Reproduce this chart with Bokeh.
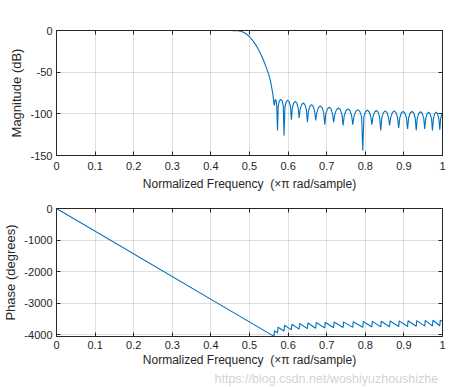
from bokeh.plotting import figure
from bokeh.layouts import column
from bokeh.models import Range1d, FixedTicker, LinearAxis, Title
from bokeh.embed import file_html
from bokeh.resources import INLINE

# ---------------- data ----------------
freq_mag = [
    0.0, 0.45, 0.46, 0.47, 0.48, 0.49, 0.50, 0.51, 0.52, 0.53, 0.54, 0.55, 0.555, 0.56, 0.5635,
    0.5645, 0.5655, 0.567, 0.569, 0.5705,
    0.5725, 0.5745, 0.5776, 0.581, 0.5844, 0.5875,
    0.5895, 0.5918, 0.5952, 0.599, 0.6028, 0.6062,
    0.6085, 0.6109, 0.6145, 0.6185, 0.6225, 0.6261,
    0.6285, 0.6311, 0.635, 0.6393, 0.6435, 0.6474,
    0.650, 0.6526, 0.6565, 0.6608, 0.665, 0.6689,
    0.6715, 0.6743, 0.6786, 0.6833, 0.688, 0.6922,
    0.695, 0.6978, 0.7019, 0.7065, 0.7111, 0.7152,
    0.718, 0.7209, 0.7254, 0.7303, 0.7352, 0.7396,
    0.7425, 0.7455, 0.75, 0.755, 0.76, 0.7645,
    0.7675, 0.7706, 0.7753, 0.7805, 0.7857, 0.7904,
    0.7935, 0.7963, 0.8006, 0.8053, 0.81, 0.8142,
    0.817, 0.8198, 0.8239, 0.8285, 0.8331, 0.8372,
    0.840, 0.8428, 0.8469, 0.8515, 0.8561, 0.8602,
    0.863, 0.8658, 0.8701, 0.8748, 0.8795, 0.8837,
    0.8865, 0.8893, 0.8934, 0.898, 0.9026, 0.9067,
    0.9095, 0.9122, 0.9163, 0.9208, 0.9253, 0.9293,
    0.932, 0.9346, 0.9386, 0.943, 0.9474, 0.9514,
    0.954, 0.9564, 0.96, 0.964, 0.968, 0.9716,
    0.974, 0.9763, 0.9797, 0.9835, 0.9873, 0.9907,
    0.993, 0.9953, 0.9985, 1.0,
]
mag_db = [
    0.0, 0.0, -0.1, -0.3, -1.2, -3.5, -7.5, -13, -20, -29, -40, -53, -62, -75, -88,
    -90, -86, -82.5, -84, -90,
    -120, -90.5, -84.5, -82.5, -84.5, -90.5,
    -126, -91.5, -85.5, -83.5, -85.5, -91.5,
    -107, -93, -87, -85, -87, -93,
    -105, -95, -89, -87, -89, -95,
    -110, -97, -91, -89, -91, -97,
    -108, -98.5, -92.5, -90.5, -92.5, -98.5,
    -113, -100, -94, -92, -94, -100,
    -110, -101, -95, -93, -95, -101,
    -114, -102, -96, -94, -96, -102,
    -113, -103, -97, -95, -97, -103,
    -144, -103.5, -97.5, -95.5, -97.5, -103.5,
    -113, -104, -98, -96, -98, -104,
    -120, -104.5, -98.5, -96.5, -98.5, -104.5,
    -114, -104.5, -98.5, -96.5, -98.5, -104.5,
    -117, -105, -99, -97, -99, -105,
    -118, -105, -99, -97, -99, -105,
    -120, -105.5, -99.5, -97.5, -99.5, -105.5,
    -118, -106, -100, -98, -100, -106,
    -120, -106, -100, -98, -100, -106,
    -119, -105, -100, -99.5,
]

freq_phase = [
    0.0, 0.5635, 0.5645,
    0.5725, 0.5737, 0.5895, 0.5907, 0.6085, 0.6097, 0.6285, 0.6297,
    0.650, 0.6512, 0.6715, 0.6727, 0.695, 0.6962, 0.718, 0.7192,
    0.7425, 0.7437, 0.7675, 0.7687, 0.7935, 0.7947, 0.817, 0.8182,
    0.840, 0.8412, 0.863, 0.8642, 0.8865, 0.8877, 0.9095, 0.9107,
    0.932, 0.9332, 0.954, 0.9552, 0.974, 0.9752, 0.993, 0.9942, 1.0,
]
phase_deg = [
    0, -4050, -3870,
    -3940, -3760, -3880, -3700, -3845, -3665, -3820, -3640,
    -3805, -3625, -3792, -3612, -3782, -3602, -3776, -3596,
    -3770, -3590, -3765, -3585, -3760, -3580, -3755, -3575,
    -3750, -3570, -3745, -3565, -3740, -3560, -3735, -3555,
    -3730, -3550, -3725, -3545, -3720, -3540, -3715, -3535, -3580,
]

x_ticks = [0, 0.1, 0.2, 0.3, 0.4, 0.5, 0.6, 0.7, 0.8, 0.9, 1]
x_tick_labels = ["0", "0.1", "0.2", "0.3", "0.4", "0.5", "0.6", "0.7", "0.8", "0.9", "1"]
mag_ticks = [-150, -100, -50, 0]
mag_tick_labels = ["-150", "-100", "-50", "0"]
phase_ticks = [-4000, -3000, -2000, -1000, 0]
phase_tick_labels = ["-4000", "-3000", "-2000", "-1000", "0"]

x_label = "Normalized Frequency \u00a0(\u00d7\u03c0 rad/sample)"
mag_label = "Magnitude (dB)"
phase_label = "Phase (degrees)"
watermark = "https://blog.csdn.net/woshiyuzhoushizhe"

# ---------------- style ----------------
FONT = "Liberation Sans"
DARK = "#262626"
LINE = "#0072BD"


def style_axis(ax, ticks, labels=None):
    ax.ticker = FixedTicker(ticks=ticks)
    ax.axis_line_color = DARK
    ax.axis_line_width = 1
    ax.major_tick_line_color = DARK
    ax.major_tick_in = 4
    ax.major_tick_out = 0
    ax.minor_tick_line_color = None
    if labels is not None:
        ax.major_label_text_font = FONT
        ax.major_label_text_font_size = "11px"
        ax.major_label_text_color = DARK
        ax.axis_label_text_font = FONT
        ax.axis_label_text_color = DARK
        ax.axis_label_text_font_style = "normal"
        ax.major_label_overrides = {t: s for t, s in zip(ticks, labels)}
    else:
        ax.major_label_text_font_size = "1px"
        ax.major_label_text_color = None
        ax.major_label_standoff = 0


def make_fig(height, yrange, yticks, ylabels, ylabel, top, bottom, xstand, xlstand):
    p = figure(width=474, height=height, x_range=Range1d(0, 1), y_range=yrange,
               output_backend="svg", toolbar_location=None,
               min_border_left=54, min_border_right=32,
               min_border_top=top, min_border_bottom=bottom)
    p.background_fill_color = "white"
    p.border_fill_color = "white"
    p.outline_line_color = DARK
    p.outline_line_width = 1
    style_axis(p.xaxis[0], x_ticks, x_tick_labels)
    style_axis(p.yaxis[0], yticks, ylabels)
    p.xaxis[0].axis_label = x_label
    p.xaxis[0].axis_label_text_font_size = "12px"
    p.xaxis[0].major_label_standoff = xstand
    p.xaxis[0].axis_label_standoff = xlstand
    p.yaxis[0].axis_label = ylabel
    p.yaxis[0].axis_label_text_font_size = "13px"
    p.yaxis[0].major_label_standoff = 4
    p.yaxis[0].axis_label_standoff = 3
    top_ax = LinearAxis()
    style_axis(top_ax, x_ticks)
    p.add_layout(top_ax, "above")
    right_ax = LinearAxis()
    style_axis(right_ax, yticks)
    p.add_layout(right_ax, "right")
    p.xgrid.ticker = FixedTicker(ticks=x_ticks)
    p.ygrid.ticker = FixedTicker(ticks=yticks)
    for g in (p.xgrid[0], p.ygrid[0]):
        g.grid_line_color = DARK
        g.grid_line_alpha = 0.15
        g.grid_line_width = 1
    return p


p1 = make_fig(193, Range1d(-150, 0), mag_ticks, mag_tick_labels, mag_label, 30, 36, 6, 4)
p1.line(freq_mag, mag_db, line_color=LINE, line_width=1.1)

p2 = make_fig(194, Range1d(-4054, 0), phase_ticks, phase_tick_labels, phase_label, 15, 51, 4, 1)
p2.line(freq_phase, phase_deg, line_color=LINE, line_width=1.1)

wm = Title(text=watermark, align="left", offset=158, standoff=0,
           text_font=FONT, text_font_size="12.5px", text_font_style="normal",
           text_color="#b8b8b8", text_alpha=0.65)
p2.add_layout(wm, "below")

layout = column(p1, p2, spacing=0)
layout.margin = 0

html = file_html(layout, INLINE)
open("out.html", "w").write(html)
